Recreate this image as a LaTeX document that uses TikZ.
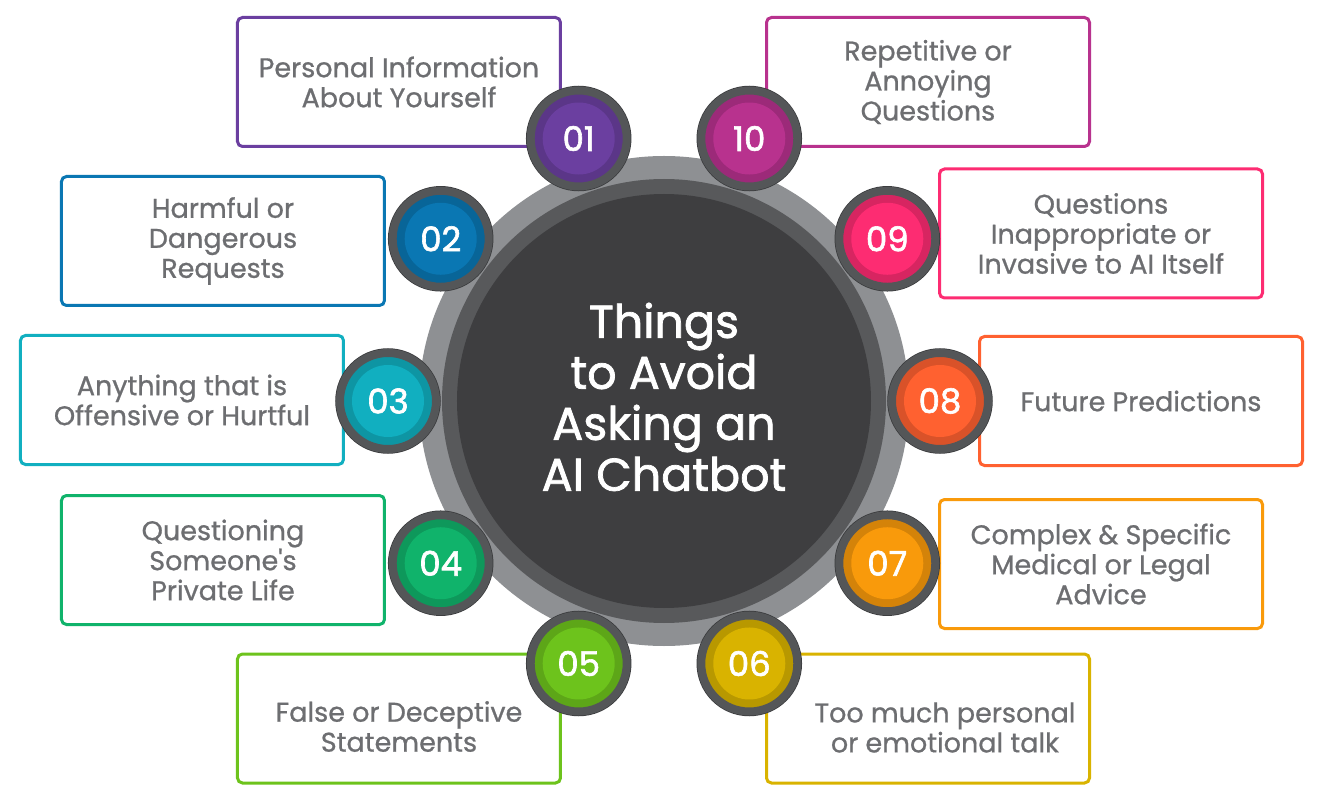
\documentclass[tikz,border=0pt]{standalone}
\usepackage{fontspec}
\setmainfont{Poppins}
\font\boxfont="Poppins:embolden=0.8" at 27pt
\font\numfont="Poppins:embolden=1.8" at 34pt
\font\titlefont="Poppins:embolden=1.6" at 46pt
\usepackage{tikz}
\usetikzlibrary{positioning}
\definecolor{Ink}{HTML}{6D6E71}
\definecolor{RingLight}{HTML}{8E9093}
\definecolor{RingMid}{HTML}{58595B}
\definecolor{Core}{HTML}{3E3E40}
\definecolor{Ring}{HTML}{545658}
\definecolor{RingEdge}{HTML}{3A3B3D}
\definecolor{Purple}{HTML}{6B3FA0}
\definecolor{Blue}{HTML}{0A77B3}
\definecolor{Teal}{HTML}{11AFC0}
\definecolor{Green}{HTML}{10B36B}
\definecolor{Lime}{HTML}{6DC31C}
\definecolor{Gold}{HTML}{D9B300}
\definecolor{Orange}{HTML}{F99A0B}
\definecolor{Coral}{HTML}{FF6130}
\definecolor{Pink}{HTML}{FD2C72}
\definecolor{Magenta}{HTML}{B8328E}

\begin{document}
\begin{tikzpicture}[x=1pt, y=1pt, every node/.style={font=\fontsize{27}{30}\selectfont\boxfont}]
\tikzstyle{box}=[draw, line width=3pt, fill=white, rounded corners=5pt, minimum width=323pt, minimum height=129pt, align=center, text=Ink, inner sep=0pt]
\tikzstyle{txt}=[align=center, text=Ink]
\tikzset{num/.style={circle, minimum size=96pt, inner sep=0pt, fill=#1!85!black, draw=Ring, line width=8pt,
  preaction={draw=RingEdge, line width=9.5pt},
  path picture={\fill[#1] (path picture bounding box.center) circle (36pt);},
  text=white, font=\numfont}}
\useasboundingbox (-664,-402) rectangle (664,401);
% boxes
\node[box,draw=Purple] (b1) at (-265,319) {Personal Information\\About Yourself};
\node[box,draw=Blue] (b2) at (-441,160) {Harmful or\\Dangerous\\Requests};
\node[box,draw=Teal] (b3) at (-482,1) {Anything that is\\Offensive or Hurtful};
\node[box,draw=Green] (b4) at (-441,-159) {Questioning\\Someone\textquotesingle s\\Private Life};
\node[box,draw=Lime] (b5) at (-265,-317.5) {};
\node[txt] (t5) at ([yshift=-8pt]b5.center) {False or Deceptive\\Statements};
\node[box,draw=Gold] (b6) at (264,-317.5) {};
\node[txt] (t6) at ([xshift=17pt,yshift=-9pt]b6.center) {Too much personal\\or emotional talk};
\node[box,draw=Orange] (b7) at (437,-163) {Complex \& Specific\\Medical or Legal\\Advice};
\node[box,draw=Coral] (b8) at (477,0) {Future Predictions};
\node[box,draw=Pink] (b9) at (437,167.5) {Questions\\Inappropriate or\\Invasive to AI Itself};
\node[box,draw=Magenta] (b10) at (264,319) {Repetitive or\\Annoying\\Questions};
% centre
\fill[RingLight] (0,0) circle (245);
\fill[RingMid] (0,0) circle (222);
\fill[Core] (0,0) circle (207);
\node[align=center, text=white, font=\fontsize{46}{51}\selectfont\titlefont] (title) at (0,4) {Things\\to Avoid\\Asking an\\AI Chatbot};
% numbers
\node[num=Purple] (n1) at (108:276) {01};
\node[num=Blue] (n2) at (144:276) {02};
\node[num=Teal] (n3) at (180:276) {03};
\node[num=Green] (n4) at (216:276) {04};
\node[num=Lime] (n5) at (252:276) {05};
\node[num=Gold] (n6) at (288:276) {06};
\node[num=Orange] (n7) at (324:276) {07};
\node[num=Coral] (n8) at (0:276) {08};
\node[num=Pink] (n9) at (36:276) {09};
\node[num=Magenta] (n10) at (72:276) {10};
\end{tikzpicture}
\end{document}
